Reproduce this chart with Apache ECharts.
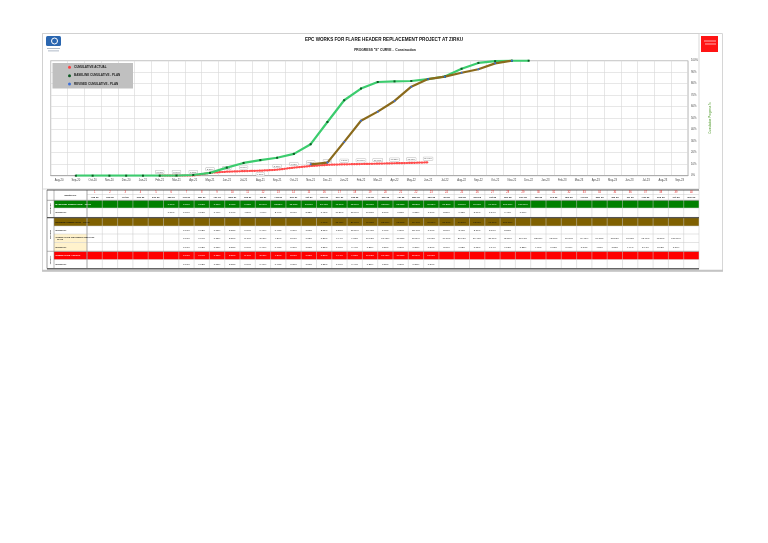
<!DOCTYPE html>
<html><head><meta charset="utf-8">
<script src="https://cdn.jsdelivr.net/npm/echarts@6/dist/echarts.min.js"></script>
<style>html,body{margin:0;padding:0;background:#fff;}#c{width:768px;height:543px;}</style>
</head><body><div id="c"></div>
<script>
// ---------- DATA ----------
const months = ['Aug-20','Sep-20','Oct-20','Nov-20','Dec-20','Jan-21','Feb-21','Mar-21','Apr-21','May-21','Jun-21','Jul-21','Aug-21','Sep-21','Oct-21','Nov-21','Dec-21','Jan-22','Feb-22','Mar-22','Apr-22','May-22','Jun-22','Jul-22','Aug-22','Sep-22','Oct-22','Nov-22','Dec-22','Jan-23','Feb-23','Mar-23','Apr-23','May-23','Jun-23','Jul-23','Aug-23','Sep-23','Oct-23','Nov-23'];
const chartMonthCount = 38;
const monthNumbers = months.map((m, i) => i + 1);

const baselineCum = [null,0,0,0,0,0,0,0.15,0.61,2.45,7.03,11.09,13.55,15.62,18.95,27.40,46.70,65.60,75.80,81.50,82.03,82.35,84.05,86.25,93.00,98.06,99.60,100.00,100.00,null,null,null,null,null,null,null,null,null,null,null];
const baselineTableFrom = 5;
const revisedCum = [null,null,null,null,null,null,null,null,null,null,null,null,null,null,null,9.90,11.40,29.40,47.80,55.70,65.00,77.40,84.00,86.10,89.50,92.60,97.70,100.00,null,null,null,null,null,null,null,null,null,null,null,null];
const actualCum = [null,null,null,null,null,null,0.07,0.09,0.12,2.50,3.48,3.95,4.37,5.17,7.05,8.38,9.44,9.88,10.15,10.45,10.83,11.11,11.61,null,null,null,null,null,null,null,null,null,null,null,null,null,null,null,null,null];
const forecastCum = [null,null,null,null,null,null,0.07,0.09,0.12,2.50,3.48,3.95,4.37,5.17,7.05,8.38,9.44,9.88,10.15,10.45,10.83,11.11,11.61,14.61,21.43,29.46,36.60,42.75,50.97,55.88,62.60,70.60,79.48,84.05,85.63,90.07,95.48,98.11,100.00,null];

const seriesNames = ['CUMULATIVE ACTUAL','BASELINE CUMULATIVE - PLAN','REVISED CUMULATIVE - PLAN'];

// ---------- HELPERS ----------
const pct = v => (v == null ? '' : v.toFixed(2) + '%');
function monthly(a){ const o=[]; let p=0; for(const v of a){ if(v==null){o.push(null);} else {o.push(Math.max(0, v-p)); p=v;} } return o; }
const revisedPath = actualCum.map((v,i)=> revisedCum[i]!=null ? revisedCum[i] : v);
const baselineTbl = baselineCum.map((v,i)=> i>=baselineTableFrom ? v : null);

const N = chartMonthCount;
const cats = months.slice(0, N);
const FF = 'Liberation Sans, Arial, sans-serif';

// ---------- TABLE (graphic) ----------
const G = [];
const X0 = 47, GX = 54, LX = 87, CW = 15.3, NC = months.length, XE = LX + CW*NC;
function rect(x,y,w,h,fill,stroke,lw,z){ G.push({type:'rect',z:z||1,silent:true,shape:{x,y,width:w,height:h},style:{fill:fill||'none',stroke:stroke||null,lineWidth:lw||0}}); }
function line(x1,y1,x2,y2,c,w,z){ G.push({type:'line',z:z||2,silent:true,shape:{x1,y1,x2,y2},style:{stroke:c,lineWidth:w}}); }
function text(x,y,t,o){ o=o||{}; G.push({type:'text',z:o.z||3,silent:true,x,y,rotation:o.rot||0,style:{text:t,fill:o.c||'#222',font:(o.b?'bold ':'')+(o.s||2.5)+'px '+FF,textAlign:o.a||'center',textVerticalAlign:'middle'}}); }

// frames
rect(42.5,33.5,680,237.5,'none','#d6d6d6',1,0);
line(42,270.8,723,270.8,'#c4c4c4',2,0);
rect(42.5,33.5,656.5,155.5,'none','#cfcfcf',0.8,0);

// title + logos
text(384,40,'EPC WORKS FOR FLARE HEADER REPLACEMENT PROJECT AT ZIRKU',{b:true,s:4.6,c:'#111'});
text(385,50,'PROGRESS "S" CURVE -  Construction',{b:true,s:3.3,c:'#111'});
G.push({type:'rect',z:1,silent:true,shape:{x:46,y:36,width:15,height:10,r:1.5},style:{fill:'#2a66b0'}});
G.push({type:'circle',z:2,silent:true,shape:{cx:54.5,cy:41,r:3},style:{fill:'none',stroke:'#fff',lineWidth:1}});
rect(47,48,13,0.8,'#9aa7b8',null,0,1); rect(48,50.5,11,0.8,'#9aa7b8',null,0,1);
rect(701,36,17,16,'#ff1414',null,0,1);
line(704,41,716,41,'#ffd0d0',0.8,2); line(705,44,716,44,'#ffd0d0',0.8,2);
text(710.5,118,'Cumulative Progress %',{s:3,c:'#4f9a2a',rot:Math.PI/2});

// legend box
rect(52.5,63,80.5,25.5,'#c0c0c0',null,0,3);

// table rows
const rows = [
  {y:200.5,h:7.5, label:'BASELINE CUMULATIVE - PLAN', fill:'#008000', lc:'#fff', vc:'#fff', vals:baselineTbl},
  {y:208,h:9.3, label:'MONTHLY', vals:monthly(baselineTbl)},
  {y:218,h:8, label:'REVISED CUMULATIVE - PLAN', fill:'#7f6000', lc:'#111', vc:'#111', vals:revisedCum},
  {y:226,h:8, label:'MONTHLY', vals:monthly(revisedPath)},
  {y:234,h:8.5, label:'CUMULATIVE REVISED/FORECAST\n- PLAN', lfill:'#fff2cc', vals:forecastCum},
  {y:242.5,h:9, label:'MONTHLY', lfill:'#fff2cc', vals:monthly(forecastCum)},
  {y:251.5,h:8, label:'CUMULATIVE ACTUAL', fill:'#ff0000', lc:'#fff', vc:'#fff', vals:actualCum},
  {y:259.5,h:9, label:'MONTHLY', vals:monthly(actualCum)}
];
rows.forEach(r=>{
  if(r.fill) rect(GX,r.y,XE-GX,r.h,r.fill,null,0,1);
  if(r.lfill) rect(GX,r.y,LX-GX,r.h,r.lfill,null,0,1);
  text(GX+1.5,r.y+r.h/2,r.label,{b:true,s:2.3,a:'left',c:r.lc||'#222'});
  r.vals.forEach((v,i)=>{ if(v!=null) text(LX+CW*i+CW/2,r.y+r.h/2,pct(v),{s:2.4,c:r.vc||'#222'}); });
  line(GX,r.y+r.h,XE,r.y+r.h,'#c8c8c8',0.5);
});
// header
months.forEach((m,i)=>{
  text(LX+CW*i+CW/2,192.3,String(monthNumbers[i]),{s:2.6,c:'#e02020'});
  text(LX+CW*i+CW/2,197.5,m,{b:true,s:2.3,c:'#222'});
});
text((GX+LX)/2,195.3,'Month No.',{b:true,s:2.5});
line(LX,194.5,XE,194.5,'#c8c8c8',0.5);
line(X0,200.3,XE,200.3,'#777',0.6);
// grid verticals
for(let i=0;i<=NC;i++) line(LX+CW*i,190,LX+CW*i,268.5,'#c8c8c8',0.5);
line(GX,190,GX,268.5,'#888',0.6); line(LX,190,LX,268.5,'#888',0.6); line(X0,190,X0,268.5,'#777',0.7);
line(X0,190,XE,190,'#555',1); line(X0,217.6,XE,217.6,'#555',1.2); line(X0,251.3,XE,251.3,'#888',0.6); line(X0,268.8,XE,268.8,'#666',1.4);
// group labels
text(50.5,208.5,'BASELINE',{b:true,s:2.1,rot:Math.PI/2,c:'#333'});
text(50.5,234.5,'REVISED',{b:true,s:2.1,rot:Math.PI/2,c:'#333'});
text(50.5,260,'ACTUAL',{b:true,s:2.1,rot:Math.PI/2,c:'#333'});

// ---------- CHART ----------
const chart = echarts.init(document.getElementById('c'));
const labelAt = (i)=> i===12 ? 'bottom' : 'top';
chart.setOption({
  animation:false,
  textStyle:{fontFamily:FF},
  grid:{left:50.7,right:80,top:60.7,bottom:367.3,show:true,borderColor:'#9c9c9c',borderWidth:0.7},
  legend:{
    data:seriesNames, orient:'vertical', left:68, top:65.3, z:5,
    itemGap:4.35, itemWidth:3, itemHeight:3, icon:'circle', padding:0,
    textStyle:{fontSize:3, lineHeight:4, fontWeight:'bold', color:'#222', padding:[0,0,0,-2]}
  },
  xAxis:{
    type:'category', data:cats, boundaryGap:true,
    axisLine:{show:true,lineStyle:{color:'#9c9c9c',width:0.7}},
    axisTick:{show:false},
    axisLabel:{interval:0,fontSize:2.7,color:'#444',margin:3},
    splitLine:{show:true,interval:0,lineStyle:{color:'#d6d6d6',width:0.6}}
  },
  yAxis:{
    type:'value', position:'right', min:0, max:100, interval:10,
    axisLine:{show:false}, axisTick:{show:false},
    axisLabel:{formatter:'{value}%',fontSize:2.7,color:'#444',margin:3},
    splitLine:{lineStyle:{color:'#d6d6d6',width:0.6}}
  },
  series:[
    {name:seriesNames[0], type:'line', z:3,
     data:actualCum.slice(0,N).map((v,i)=> v==null?null:{value:v,label:{position:labelAt(i)}}),
     symbol:'circle', symbolSize:0.5, itemStyle:{color:'#ff4040'},
     lineStyle:{color:'#ff4d4d',width:2.2,type:[0.6,1.9],cap:'round'},
     label:{show:true,formatter:p=>pct(p.value),fontSize:2.3,color:'#555',backgroundColor:'#fff',borderColor:'#a0a0a0',borderWidth:0.35,padding:[0.4,0.8],distance:2}
    },
    {name:seriesNames[1], type:'line', z:4, data:baselineCum.slice(0,N),
     symbol:'rect', symbolSize:2, itemStyle:{color:'#0b5a22'},
     lineStyle:{color:'#3ccc6e',width:2.2}},
    {name:seriesNames[2], type:'line', z:4, data:revisedCum.slice(0,N),
     symbol:'circle', symbolSize:2, itemStyle:{color:'#3a6fd8'},
     lineStyle:{color:'#8a6a1c',width:2.2}}
  ],
  graphic:{elements:G}
});
</script></body></html>
